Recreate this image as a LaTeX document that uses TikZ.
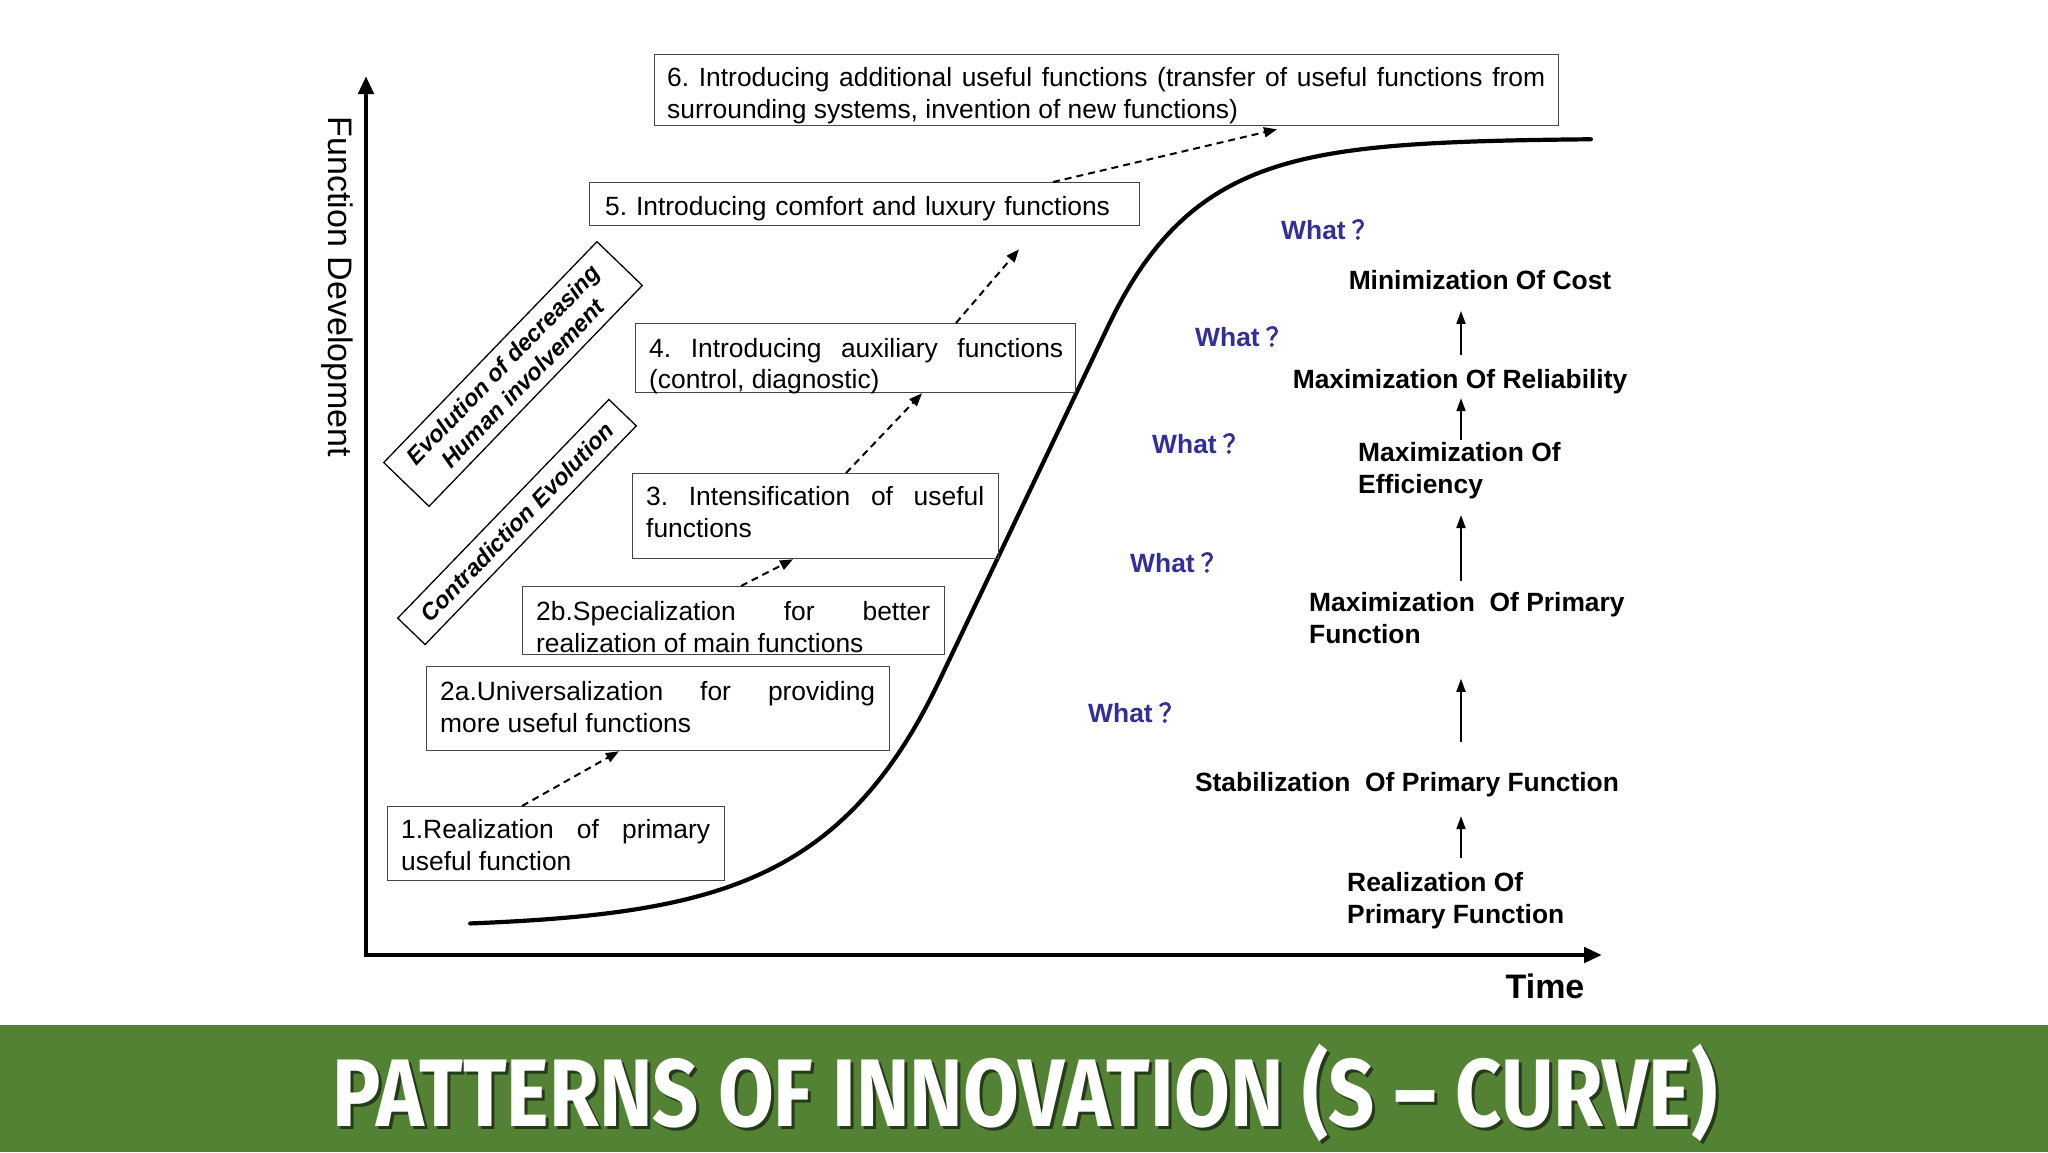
\documentclass[tikz,border=0pt]{standalone}
\usepackage{fontspec}
\usepackage{graphicx}
\setmainfont{Liberation Sans}
\newfontfamily\cjkb[FakeBold=2]{Noto Sans CJK SC}
\newfontfamily\titlefont{Fira Sans}
\usetikzlibrary{arrows.meta,calc}
\definecolor{bannergreen}{RGB}{84,130,53}
\definecolor{whatblue}{RGB}{50,48,150}
\definecolor{boxgray}{RGB}{70,70,70}
\hyphenpenalty=10000
\exhyphenpenalty=10000
\tolerance=10000
\hbadness=10000
\frenchspacing
\newcommand\bannertitle{\resizebox{1385pt}{\height}{\titlefont\bfseries\fontsize{96}{96}\selectfont PATTERNS OF INNOVATION (S – CURVE)}}
\newcommand\whatq{\textbf{What}\hspace{0.22em}{\cjkb ？}}
\begin{document}
\begin{tikzpicture}[x=1pt,y=-1pt,
  frame/.style={draw=boxgray, line width=1.3pt, inner sep=0pt, anchor=north west},
  txt/.style={inner sep=0pt, anchor=north west, align=justify,
    font=\fontsize{26.4}{31.5}\selectfont},
  rbox/.style={draw=black, line width=1.3pt, inner sep=0pt, align=center,
    font=\bfseries\itshape\fontsize{23.5}{27}\selectfont},
  rlab/.style={inner sep=0pt, font=\bfseries\fontsize{26.4}{32}\selectfont},
  what/.style={inner sep=0pt, anchor=base west, text=whatblue, font=\fontsize{26.4}{32}\selectfont},
  dasharr/.style={line width=2pt, dash pattern=on 7pt off 5pt, -{Triangle[length=13pt,width=10pt]}},
  uparr/.style={line width=2pt, -{Triangle[length=13pt,width=9pt]}},
  axis/.style={line width=4.5pt, {Triangle[length=18pt,width=15pt]}-{Triangle[length=18pt,width=15pt]}}
]
\useasboundingbox (0,0) rectangle (2048,1152);
\fill[white] (0,0) rectangle (2048,1152);

% axes
\coordinate (ytip) at (366,76);
\coordinate (orig) at (366,955);
\coordinate (xtip) at (1602,955);
\draw[axis] (ytip) -- (orig) -- (xtip);
\node[rotate=-90, inner sep=0pt, font=\fontsize{34}{40}\selectfont] (ylab) at (337,287) {Function Development};
\node[inner sep=0pt, font=\bfseries\fontsize{34}{40}\selectfont] (xlab) at (1545,986) {Time};

% S-curve (drawn in the reduced 1568-wide units)
\begin{scope}[x=1.30612pt, y=-1.30612pt]
\draw[line width=4.2pt, line cap=round, line join=round]
  plot[domain=360:719, samples=70] (\x, {707-3.5*(exp((\x-360)/90)-1)})
  -- (849,248.5)
  -- plot[domain=849:1218, samples=70] (\x, {106+142.5*exp(-(\x-849)/68)});
\end{scope}

% boxes: frames
\node[frame, minimum width=904pt, minimum height=71pt] (b6) at (654,54) {};
\node[frame, minimum width=550pt, minimum height=43pt] (b5) at (589,182) {};
\node[frame, minimum width=440pt, minimum height=69pt] (b4) at (635,323) {};
\node[frame, minimum width=366pt, minimum height=85pt] (b3) at (632,473) {};
\node[frame, minimum width=422pt, minimum height=68pt] (b2b) at (522,586) {};
\node[frame, minimum width=463pt, minimum height=84pt] (b2a) at (426,666) {};
\node[frame, minimum width=337pt, minimum height=74pt] (b1) at (387,806) {};

% boxes: texts
\node[txt, text width=878pt] (b6t) at ($(b6.north west)+(13,13.4)$)
  {6. Introducing additional useful functions (transfer of useful functions from\linebreak surrounding systems, invention of new functions)};
\node[txt, text width=524pt, align=left] (b5t) at ($(b5.north west)+(16,14.4)$)
  {5. Introducing comfort and luxury functions};
\node[txt, text width=414pt] (b4t) at ($(b4.north west)+(14,14.7)$)
  {4. Introducing auxiliary functions\linebreak (control, diagnostic)};
\node[txt, text width=338pt] (b3t) at ($(b3.north west)+(14,13.6)$)
  {3. Intensification of useful\linebreak functions};
\node[txt, text width=394pt] (b2bt) at ($(b2b.north west)+(14,15.5)$)
  {2b.Specialization for better\linebreak realization of main functions};
\node[txt, text width=435pt] (b2at) at ($(b2a.north west)+(14,15.2)$)
  {2a.Universalization for providing\linebreak more useful functions};
\node[txt, text width=309pt] (b1t) at ($(b1.north west)+(14,13.6)$)
  {1.Realization of primary\linebreak useful function};

% dashed arrows
\draw[dasharr] ($(b1.north west)+(135,0)$) -- ($(b2a.south west)+(193,0)$);
\draw[dasharr] ($(b2b.north west)+(219,0)$) -- ($(b3.south west)+(161,0)$);
\draw[dasharr] ($(b3.north west)+(214,0)$) -- ($(b4.south west)+(287,0)$);
\draw[dasharr] ($(b4.north west)+(321,0)$) -- ($(b5.south west)+(430,23)$);
\draw[dasharr] ($(b5.north west)+(464,0)$) -- ($(b6.south west)+(623,3)$);

% rotated boxes
\node[rbox, minimum width=307pt, minimum height=63pt, rotate=46] (evo) at (513,374)
  {Evolution of decreasing\\Human involvement};
\node[rbox, minimum width=304pt, minimum height=38pt, rotate=46] (contra) at (517,522)
  {Contradiction Evolution};

% right-side labels
\node[rlab, anchor=base] (cost) at (1480,289.5) {Minimization Of Cost};
\node[rlab, anchor=base] (rel) at (1460,388.5) {Maximization Of Reliability};
\node[rlab, anchor=north west, align=left] (eff) at (1358,442) {Maximization Of\\Efficiency};
\node[rlab, anchor=north west, align=left] (maxp) at (1309,592) {Maximization\ \ Of Primary\\Function};
\node[rlab, anchor=base] (stab) at (1407,791.5) {Stabilization\ \ Of Primary Function};
\node[rlab, anchor=north west, align=left] (real) at (1347,872) {Realization Of\\Primary Function};

\coordinate (col) at (1461,0);
\draw[uparr, shorten <=14pt, shorten >=19pt] (real.north -| col) -- (stab.south -| col);
\draw[uparr, shorten <=30pt, shorten >=35pt] (stab.north -| col) -- (maxp.south -| col);
\draw[uparr, shorten <=11pt, shorten >=16pt] (maxp.north -| col) -- (eff.south -| col);
\draw[uparr, shorten <=2pt, shorten >=4pt] (eff.north -| col) -- (rel.south -| col);
\draw[uparr, shorten <=14pt, shorten >=21pt] (rel.north -| col) -- (cost.south -| col);

% What? labels
\node[what] (w1) at (1281,239.5) {\whatq};
\node[what] (w2) at (1195,346.5) {\whatq};
\node[what] (w3) at (1152,453.5) {\whatq};
\node[what] (w4) at (1130,572.5) {\whatq};
\node[what] (w5) at (1088,722.5) {\whatq};

% banner
\fill[bannergreen] (0,1025) rectangle (2048,1152);
\node[anchor=base, inner sep=0pt, text=black, opacity=0.55] (titleshadow) at (1028,1129) {\bannertitle};
\node[anchor=base, inner sep=0pt, text=white] (title) at (1025,1126) {\bannertitle};
\end{tikzpicture}
\end{document}
